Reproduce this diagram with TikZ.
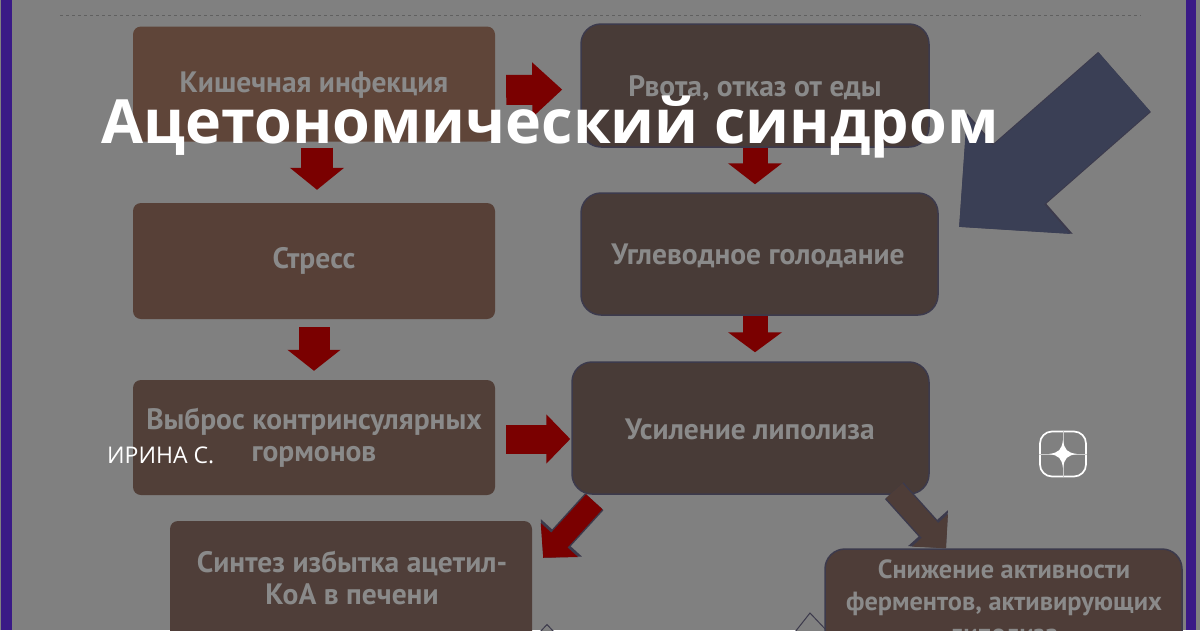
\documentclass[tikz,border=0pt]{standalone}
\usepackage{fontspec}
\setmainfont{PT Sans}
\newfontfamily\titlefont{Open Sans}
\usepackage{xcolor}
\usetikzlibrary{arrows.meta}
\definecolor{pagegrey}{HTML}{808080}
\definecolor{barpurple}{HTML}{3A1A86}
\definecolor{arrowred}{HTML}{7A0000}
\definecolor{arrowedge}{HTML}{3C3A4C}
\definecolor{darkbox}{HTML}{483B37}
\definecolor{brownfill}{HTML}{4E3D38}
\definecolor{bluefill}{HTML}{3A3F55}
\definecolor{boxtextgrey}{HTML}{8A8A8A}
\tikzset{
  palebox/.style={rounded corners=8pt, inner sep=0pt},
  darkedge/.style={fill=darkbox, draw=arrowedge, line width=1.5pt, rounded corners=20pt, inner sep=0pt},
  boxtext/.style={text=boxtextgrey, align=center, font=\fontsize{29.5}{32}\selectfont\bfseries},
  blockarrow/.style n args={4}{draw=#1, line width=#2, -{Triangle[length=#3,width=#4]}},
}
\begin{document}
\begin{tikzpicture}[x=1pt, y=-1pt]
  \clip (0,0) rectangle (1200,630);
  \fill[pagegrey] (0,0) rectangle (1200,630);
  \fill[barpurple] (1,0) rectangle (11.5,630);
  \fill[barpurple] (1186,0) rectangle (1196,630);
  \draw[black!25!pagegrey, dashed, line width=0.7pt] (60,15) -- (1141,15);

  % tails of the arrows that the crop cuts off
  \draw[draw=arrowedge, fill=black!25!pagegrey!80!white, line width=1pt] (810,613) -- (795,632) -- (828,632) -- cycle;
  \draw[draw=arrowedge, fill=black!25!pagegrey!80!white, line width=1pt] (547,624.5) -- (540,632) -- (554,632) -- cycle;

  \node[palebox, fill={rgb,255:red,95;green,69;blue,57}, minimum width=362pt, minimum height=115pt] (kishka) at (314,84) {};
  \node[palebox, fill={rgb,255:red,87;green,64;blue,55}, minimum width=362pt, minimum height=116pt] (stress) at (314,261) {};
  \node[palebox, fill={rgb,255:red,81;green,63;blue,56}, minimum width=362pt, minimum height=115pt] (vybros) at (314,437.5) {};
  \node[palebox, fill={rgb,255:red,79;green,62;blue,57}, minimum width=362pt, minimum height=119pt] (sintez) at (351,580.5) {};
  \node[darkedge, minimum width=348pt, minimum height=123pt] (rvota) at (755,85.5) {};
  \node[darkedge, minimum width=357pt, minimum height=122pt] (uglevod) at (759.5,254) {};
  \node[darkedge, minimum width=357pt, minimum height=132pt] (lipoliz) at (750.5,428) {};
  \node[darkedge, fill=brownfill, minimum width=357pt, minimum height=131pt] (snizhenie) at (1003.5,614.5) {};

  \node[boxtext] (kishkatext) at (314,85) {Кишечная инфекция};
  \node[boxtext] (stresstext) at (314,261) {Стресс};
  \node[boxtext] (vybrostext) at (314,438) {Выброс контринсулярных\\гормонов};
  \node[boxtext] (sinteztext) at (352,578) {Синтез избытка ацетил-\\КоА в печени};
  \node[boxtext] (rvotatext) at (755,88) {Рвота, отказ от еды};
  \node[boxtext] (uglevodtext) at (758,256) {Углеводное голодание};
  \node[boxtext] (lipoliztext) at (750,429) {Усиление липолиза};
  \node[boxtext, font=\fontsize{26.3}{32}\selectfont\bfseries] (snizhenietext) at (1004,601) {Снижение активности\\ферментов, активирующих\\липолиза};

  \draw[blockarrow={arrowred}{30pt}{30pt}{53pt}, shorten <=11pt, shorten >=18pt] ([yshift=-6pt]kishka.east) -- ([yshift=-4pt]rvota.west);
  \draw[blockarrow={arrowred}{32pt}{22pt}{53pt}, shorten <=6pt, shorten >=13pt] ([xshift=3pt]kishka.south) -- ([xshift=3pt]stress.north);
  \draw[blockarrow={arrowred}{31pt}{21pt}{52pt}, shorten <=8pt, shorten >=9pt] (stress.south) -- (vybros.north);
  \draw[blockarrow={arrowred}{29pt}{24pt}{48pt}, shorten <=11pt, shorten >=1pt] ([yshift=-1.5pt]vybros.east) -- ([yshift=-11pt]lipoliz.west);
  \draw[blockarrow={arrowred}{25pt}{21pt}{53pt}, shorten >=8pt] (rvota.south) -- ([xshift=-4.5pt]uglevod.north);
  \draw[blockarrow={arrowred}{25pt}{20pt}{53pt}, shorten >=9pt] ([xshift=-4.5pt]uglevod.south) -- ([xshift=4.5pt]lipoliz.north);

  \draw[preaction={blockarrow={arrowedge}{25pt}{27pt}{54pt}}, blockarrow={arrowred}{22pt}{24pt}{49pt}]
    ([shift={(23pt,-7pt)}]lipoliz.south west) -- ([shift={(11pt,-37pt)}]sintez.north east);
  \draw[preaction={blockarrow={arrowedge}{25pt}{27pt}{52pt}}, blockarrow={brownfill}{22pt}{24pt}{47pt}]
    ([shift={(-35.5pt,4pt)}]lipoliz.south east) -- ([shift={(-57.5pt,0pt)}]snizhenie.north);

  \coordinate (bluetail) at (1124.5,82);
  \coordinate (bluetip) at (959,227);
  \draw[preaction={blockarrow={arrowedge}{80pt}{81pt}{155pt}}, blockarrow={bluefill}{78pt}{79pt}{152pt}] (bluetail) -- (bluetip);

  \node[anchor=base west, text=white, font=\titlefont\fontsize{61}{78}\selectfont\bfseries, inner sep=0pt] (title) at (101,143.5) {Ацетономический синдром};
  \node[anchor=base west, text=white, font=\titlefont\fontsize{23}{26}\selectfont, inner sep=0pt] (author) at (107,463) {ИРИНА С.};

  \node[draw=white, line width=1.7pt, rounded corners=12pt, minimum width=46pt, minimum height=45pt, inner sep=0pt] (sparkbox) at (1063,454) {};
  \draw[white!60!pagegrey, line width=1pt] (sparkbox.north) -- (sparkbox.south);
  \draw[white!60!pagegrey, line width=1pt] (sparkbox.west) -- (sparkbox.east);
  \fill[white, shift={(sparkbox.center)}] (0pt,14pt) .. controls (1.5pt,4pt) and (4pt,1.5pt) .. (14pt,0pt)
    .. controls (4pt,-1.5pt) and (1.5pt,-4pt) .. (0pt,-14pt)
    .. controls (-1.5pt,-4pt) and (-4pt,-1.5pt) .. (-14pt,0pt)
    .. controls (-4pt,1.5pt) and (-1.5pt,4pt) .. cycle;
\end{tikzpicture}
\end{document}
